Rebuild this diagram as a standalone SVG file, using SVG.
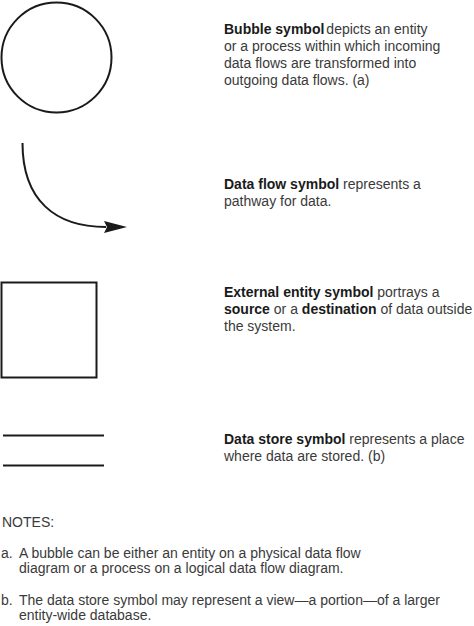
<svg xmlns="http://www.w3.org/2000/svg" width="474" height="626" viewBox="0 0 474 626">
<style>
text{font-family:"Liberation Sans",Arial,sans-serif;font-size:14px;fill:#3a3a3a}
.b{font-weight:bold;fill:#1a1a1a}
.sym{fill:none;stroke:#1a1a1a;stroke-width:2}
</style>
<rect width="474" height="626" fill="#fff"/>
<g id="bubble">
<circle class="sym" cx="56.5" cy="57.5" r="55"/>
<text x="224" y="33.5"><tspan class="b">Bubble symbol</tspan><tspan dx="2">depicts an entity</tspan></text>
<text x="224" y="50.5">or a process within which incoming</text>
<text x="224" y="67.5">data flows are transformed into</text>
<text x="224" y="84.5">outgoing data flows. (a)</text>
</g>
<g id="connectors">
<path class="sym" d="M22.5,143 C22.5,200 55,227 106,227"/>
<path d="M104,221 L127,227 L104,233 L107,227 Z" fill="#1a1a1a"/>
</g>
<g id="dataflow">
<text x="224" y="188.5"><tspan class="b">Data flow symbol</tspan> represents a</text>
<text x="224" y="205.5">pathway for data.</text>
</g>
<g id="external">
<rect class="sym" x="1.5" y="282.5" width="95" height="95"/>
<text x="224" y="297"><tspan class="b">External entity symbol</tspan> portrays a</text>
<text x="224" y="314"><tspan class="b">source</tspan> or a <tspan class="b">destination</tspan> of data outside</text>
<text x="224" y="331">the system.</text>
</g>
<g id="datastore">
<line class="sym" x1="3" y1="435.5" x2="104" y2="435.5"/>
<line class="sym" x1="3" y1="465.5" x2="104" y2="465.5"/>
<text x="224" y="443.5"><tspan class="b">Data store symbol</tspan> represents a place</text>
<text x="224" y="460.5">where data are stored. (b)</text>
</g>
<g id="notes">
<text x="2" y="526.5">NOTES:</text>
<text x="1" y="557.5">a.</text>
<text x="19" y="557.5">A bubble can be either an entity on a physical data flow</text>
<text x="19" y="572.5">diagram or a process on a logical data flow diagram.</text>
<text x="1" y="604.5">b.</text>
<text x="19" y="604.5">The data store symbol may represent a view—a portion—of a larger</text>
<text x="19" y="619.5">entity-wide database.</text>
</g>
</svg>
